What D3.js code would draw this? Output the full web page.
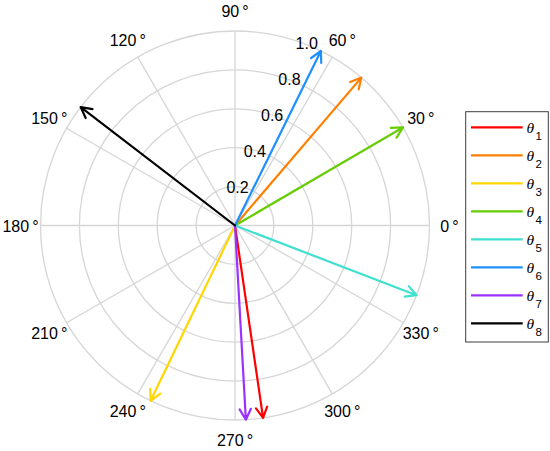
<!DOCTYPE html>
<html>
<head>
<meta charset="utf-8">
<script src="https://cdn.jsdelivr.net/npm/d3@7/dist/d3.min.js"></script>
<style>
  html, body { margin: 0; padding: 0; background: #fff; }
  svg { display: block; }
  text { font-family: "Liberation Sans", Arial, Helvetica, sans-serif; fill: #000; }
</style>
</head>
<body>
<svg id="chart" width="550" height="451"></svg>
<script>
// ---- data ----
const seriesNames = ["1", "2", "3", "4", "5", "6", "7", "8"];          // subscripts of theta
const angles      = [278.3, 49.5, 244.3, 30.3, 339.0, 63.8, 273.2, 142.5]; // degrees
const magnitudes  = [1, 1, 1, 1, 1, 1, 1, 1];
const colors      = ["#ff0000", "#ff8000", "#ffd700", "#66cd00", "#40e0d0", "#1e90ff", "#9b30ff", "#000000"];
const rTicks      = [0.2, 0.4, 0.6, 0.8, 1.0];
const thetaTicks  = [0, 30, 60, 90, 120, 150, 180, 210, 240, 270, 300, 330];

// ---- layout ----
const svg = d3.select("#chart");
const cx = 235, cy = 225.5, R = 194.5;
const r = d3.scaleLinear().domain([0, 1]).range([0, R]);
const rad = d3.scaleLinear().domain([0, 360]).range([0, 2 * Math.PI]);
const px = (v, a) => cx + r(v) * Math.cos(rad(a));
const py = (v, a) => cy - r(v) * Math.sin(rad(a));

const grid = svg.append("g").attr("stroke", "#d6d6d6").attr("stroke-width", 1.3).attr("fill", "none");
grid.selectAll("circle").data(rTicks).join("circle")
  .attr("cx", cx).attr("cy", cy).attr("r", d => r(d));
grid.selectAll("line").data(thetaTicks).join("line")
  .attr("x1", cx).attr("y1", cy)
  .attr("x2", d => px(1, d)).attr("y2", d => py(1, d));

// angular labels
const angLab = svg.append("g").attr("font-size", 16);
angLab.selectAll("text").data(thetaTicks).join("text")
  .attr("x", d => cx + (R + 20) * Math.cos(rad(d)))
  .attr("y", d => cy - (R + 20) * Math.sin(rad(d)))
  .attr("text-anchor", "middle")
  .attr("dominant-baseline", "central")
  .each(function (d) {
    const t = d3.select(this);
    t.append("tspan").text(d);
    t.append("tspan").attr("dx", 3).text("°");
  });

// arrows
const data = angles.map((a, i) => ({ a, m: magnitudes[i], c: colors[i], n: seriesNames[i] }));
const headLen = 12, headAng = 28 * Math.PI / 180;
const arrows = svg.append("g").attr("fill", "none").attr("stroke-width", 2.2)
  .attr("stroke-linecap", "round").attr("stroke-linejoin", "round");
data.forEach(d => {
  const x2 = px(d.m, d.a), y2 = py(d.m, d.a);
  const back = Math.atan2(cy - y2, cx - x2);
  const h1x = x2 + headLen * Math.cos(back + headAng), h1y = y2 + headLen * Math.sin(back + headAng);
  const h2x = x2 + headLen * Math.cos(back - headAng), h2y = y2 + headLen * Math.sin(back - headAng);
  const p = d3.path();
  p.moveTo(cx, cy); p.lineTo(x2, y2);
  p.moveTo(h1x, h1y); p.lineTo(x2, y2); p.lineTo(h2x, h2y);
  arrows.append("path").attr("d", p.toString()).attr("stroke", d.c);
});

// radial tick labels
const rLabAng = 64.3;
svg.append("g").attr("font-size", 16).selectAll("text").data(rTicks).join("text")
  .attr("x", d => cx - 3.6 + r(d) * 1.025 * Math.cos(rad(rLabAng)))
  .attr("y", d => cy - 2.3 - r(d) * 1.025 * Math.sin(rad(rLabAng)))
  .attr("text-anchor", "end")
  .attr("dominant-baseline", "central")
  .text(d => d3.format(".1f")(d));

// legend
const lg = svg.append("g");
const lx = 465.7, ly = 111.7, lw = 82.6, lh = 230.3;
lg.append("rect").attr("x", lx).attr("y", ly).attr("width", lw).attr("height", lh)
  .attr("fill", "#fff").attr("stroke", "#3c3c3c").attr("stroke-width", 1);
const ry = d3.scalePoint().domain(seriesNames).range([127.3, 323.3]);
const items = lg.selectAll("g.item").data(data).join("g").attr("class", "item")
  .attr("transform", d => `translate(0,${ry(d.n)})`);
items.append("line").attr("x1", 471).attr("x2", 522.7).attr("y1", 0).attr("y2", 0)
  .attr("stroke", d => d.c).attr("stroke-width", 2.2);
items.append("text").attr("x", 526.5).attr("y", 6)
  .style("font-family", "'Liberation Serif', 'DejaVu Serif', serif")
  .style("font-style", "italic").attr("font-size", 15.5).text("θ");
items.append("text").attr("x", 535.5).attr("y", 12.7)
  .attr("font-size", 11.5).text(d => d.n);
</script>
</body>
</html>
